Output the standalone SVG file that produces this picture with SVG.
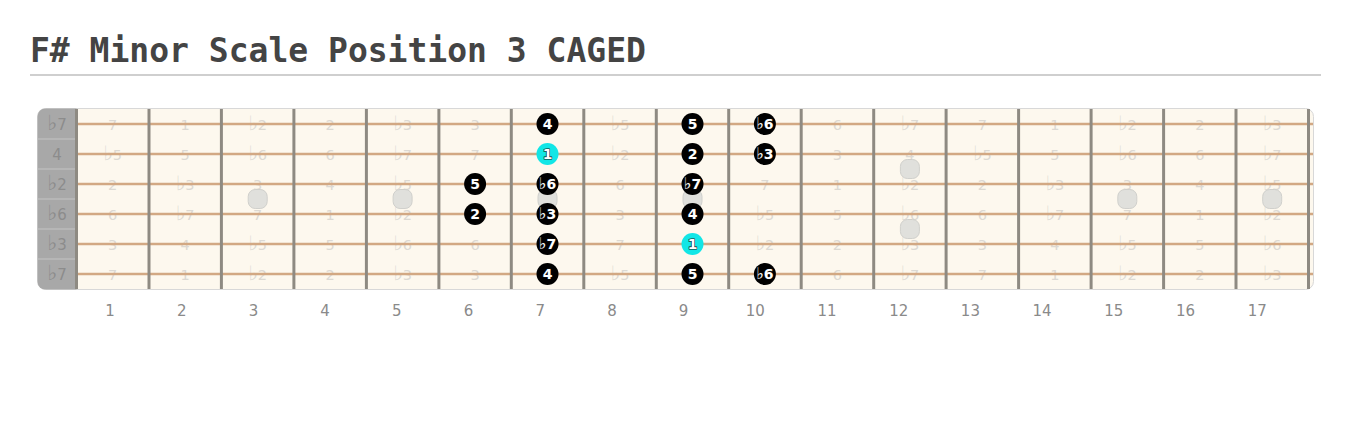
<svg xmlns="http://www.w3.org/2000/svg" width="1352" height="434" viewBox="0 0 1352 434">
<style>
.title{font-family:"DejaVu Sans Mono","Liberation Mono",monospace;font-weight:bold;font-size:33px;fill:#444}
.f{font-family:"DejaVu Sans",Verdana,sans-serif;font-size:14.5px;fill:#dcd9d3;text-anchor:middle}
.nl{font-family:"DejaVu Sans",Verdana,sans-serif;font-size:15px;fill:#8c8c8c;text-anchor:middle}
.fn{font-family:"DejaVu Sans",Verdana,sans-serif;font-size:15px;fill:#8a8a8a;text-anchor:middle}
.b{font-size:1.4em;font-weight:normal}
.str{stroke:#d2a883;stroke-width:2.5}
.fret{stroke:#8e8a82;stroke-width:3}
.sep{stroke:#c4c4c4;stroke-width:1}
.dot{fill:#e0e0dc;stroke:#d0d0cc;stroke-width:1}
.n circle{fill:#000}
.n.r circle{fill:#12e6e6}
.n text{font-family:"DejaVu Sans",Verdana,sans-serif;font-weight:bold;font-size:14px;fill:#fff;stroke:#111;stroke-width:1.1;paint-order:stroke;text-anchor:middle}
.n .b{font-size:1.15em;font-weight:bold}
</style>
<rect width="1352" height="434" fill="#fff"/>
<text class="title" x="30" y="62">F# Minor Scale Position 3 CAGED</text>
<line x1="30" y1="75" x2="1321" y2="75" stroke="#cfcfcf" stroke-width="2"/>
<g id="fretboard">
<rect x="37.5" y="108.5" width="1276" height="181" rx="8" fill="#fdf8ee" stroke="#d8d8d8" stroke-width="1"/>
<path d="M76.5 108.5 H45.5 A8 8 0 0 0 37.5 116.5 V281.5 A8 8 0 0 0 45.5 289.5 H76.5 Z" fill="#a8a8a8"/>
<g class="sep">
<line x1="38" y1="139" x2="76" y2="139"/><line x1="38" y1="169" x2="76" y2="169"/><line x1="38" y1="199" x2="76" y2="199"/><line x1="38" y1="229" x2="76" y2="229"/><line x1="38" y1="259" x2="76" y2="259"/>
</g>
<g class="nl">
<text x="57" y="129.5"><tspan class="b">♭</tspan>7</text><text x="57" y="159.5">4</text><text x="57" y="189.5"><tspan class="b">♭</tspan>2</text><text x="57" y="219.5"><tspan class="b">♭</tspan>6</text><text x="57" y="249.5"><tspan class="b">♭</tspan>3</text><text x="57" y="279.5"><tspan class="b">♭</tspan>7</text>
</g>
</g>
<g id="labels" class="f">
<text x="112.7" y="130">7</text><text x="185.2" y="130">1</text><text x="257.7" y="130"><tspan class="b">♭</tspan>2</text><text x="330.1" y="130">2</text><text x="402.6" y="130"><tspan class="b">♭</tspan>3</text><text x="475.1" y="130">3</text><text x="620" y="130"><tspan class="b">♭</tspan>5</text><text x="837.4" y="130">6</text><text x="909.9" y="130"><tspan class="b">♭</tspan>7</text><text x="982.3" y="130">7</text><text x="1054.8" y="130">1</text><text x="1127.3" y="130"><tspan class="b">♭</tspan>2</text><text x="1199.8" y="130">2</text><text x="1272.2" y="130"><tspan class="b">♭</tspan>3</text>
<text x="112.7" y="160"><tspan class="b">♭</tspan>5</text><text x="185.2" y="160">5</text><text x="257.7" y="160"><tspan class="b">♭</tspan>6</text><text x="330.1" y="160">6</text><text x="402.6" y="160"><tspan class="b">♭</tspan>7</text><text x="475.1" y="160">7</text><text x="620" y="160"><tspan class="b">♭</tspan>2</text><text x="837.4" y="160">3</text><text x="909.9" y="160">4</text><text x="982.3" y="160"><tspan class="b">♭</tspan>5</text><text x="1054.8" y="160">5</text><text x="1127.3" y="160"><tspan class="b">♭</tspan>6</text><text x="1199.8" y="160">6</text><text x="1272.2" y="160"><tspan class="b">♭</tspan>7</text>
<text x="112.7" y="190">2</text><text x="185.2" y="190"><tspan class="b">♭</tspan>3</text><text x="257.7" y="190">3</text><text x="330.1" y="190">4</text><text x="402.6" y="190"><tspan class="b">♭</tspan>5</text><text x="620" y="190">6</text><text x="764.9" y="190">7</text><text x="837.4" y="190">1</text><text x="909.9" y="190"><tspan class="b">♭</tspan>2</text><text x="982.3" y="190">2</text><text x="1054.8" y="190"><tspan class="b">♭</tspan>3</text><text x="1127.3" y="190">3</text><text x="1199.8" y="190">4</text><text x="1272.2" y="190"><tspan class="b">♭</tspan>5</text>
<text x="112.7" y="220">6</text><text x="185.2" y="220"><tspan class="b">♭</tspan>7</text><text x="257.7" y="220">7</text><text x="330.1" y="220">1</text><text x="402.6" y="220"><tspan class="b">♭</tspan>2</text><text x="620" y="220">3</text><text x="764.9" y="220"><tspan class="b">♭</tspan>5</text><text x="837.4" y="220">5</text><text x="909.9" y="220"><tspan class="b">♭</tspan>6</text><text x="982.3" y="220">6</text><text x="1054.8" y="220"><tspan class="b">♭</tspan>7</text><text x="1127.3" y="220">7</text><text x="1199.8" y="220">1</text><text x="1272.2" y="220"><tspan class="b">♭</tspan>2</text>
<text x="112.7" y="250">3</text><text x="185.2" y="250">4</text><text x="257.7" y="250"><tspan class="b">♭</tspan>5</text><text x="330.1" y="250">5</text><text x="402.6" y="250"><tspan class="b">♭</tspan>6</text><text x="475.1" y="250">6</text><text x="620" y="250">7</text><text x="764.9" y="250"><tspan class="b">♭</tspan>2</text><text x="837.4" y="250">2</text><text x="909.9" y="250"><tspan class="b">♭</tspan>3</text><text x="982.3" y="250">3</text><text x="1054.8" y="250">4</text><text x="1127.3" y="250"><tspan class="b">♭</tspan>5</text><text x="1199.8" y="250">5</text><text x="1272.2" y="250"><tspan class="b">♭</tspan>6</text>
<text x="112.7" y="280">7</text><text x="185.2" y="280">1</text><text x="257.7" y="280"><tspan class="b">♭</tspan>2</text><text x="330.1" y="280">2</text><text x="402.6" y="280"><tspan class="b">♭</tspan>3</text><text x="475.1" y="280">3</text><text x="620" y="280"><tspan class="b">♭</tspan>5</text><text x="837.4" y="280">6</text><text x="909.9" y="280"><tspan class="b">♭</tspan>7</text><text x="982.3" y="280">7</text><text x="1054.8" y="280">1</text><text x="1127.3" y="280"><tspan class="b">♭</tspan>2</text><text x="1199.8" y="280">2</text><text x="1272.2" y="280"><tspan class="b">♭</tspan>3</text>
</g>
<g id="strings" class="str">
<line x1="77" y1="124" x2="1313" y2="124"/><line x1="77" y1="154" x2="1313" y2="154"/><line x1="77" y1="184" x2="1313" y2="184"/><line x1="77" y1="214" x2="1313" y2="214"/><line x1="77" y1="244" x2="1313" y2="244"/><line x1="77" y1="274" x2="1313" y2="274"/>
</g>
<g id="frets" class="fret">
<line x1="76.5" y1="109" x2="76.5" y2="289"/><line x1="149" y1="109" x2="149" y2="289"/><line x1="221.4" y1="109" x2="221.4" y2="289"/><line x1="293.9" y1="109" x2="293.9" y2="289"/><line x1="366.4" y1="109" x2="366.4" y2="289"/><line x1="438.9" y1="109" x2="438.9" y2="289"/><line x1="511.3" y1="109" x2="511.3" y2="289"/><line x1="583.8" y1="109" x2="583.8" y2="289"/><line x1="656.3" y1="109" x2="656.3" y2="289"/><line x1="728.7" y1="109" x2="728.7" y2="289"/><line x1="801.2" y1="109" x2="801.2" y2="289"/><line x1="873.7" y1="109" x2="873.7" y2="289"/><line x1="946.1" y1="109" x2="946.1" y2="289"/><line x1="1018.6" y1="109" x2="1018.6" y2="289"/><line x1="1091.1" y1="109" x2="1091.1" y2="289"/><line x1="1163.6" y1="109" x2="1163.6" y2="289"/><line x1="1236" y1="109" x2="1236" y2="289"/><line x1="1308.5" y1="109" x2="1308.5" y2="289"/>
</g>
<g id="inlays" class="dot">
<rect x="248.2" y="189.5" width="19" height="19" rx="7"/><rect x="393.1" y="189.5" width="19" height="19" rx="7"/><rect x="538" y="189.5" width="19" height="19" rx="7"/><rect x="683" y="189.5" width="19" height="19" rx="7"/><rect x="900.4" y="159.5" width="19" height="19" rx="7"/><rect x="900.4" y="219.5" width="19" height="19" rx="7"/><rect x="1117.8" y="189.5" width="19" height="19" rx="7"/><rect x="1262.7" y="189.5" width="19" height="19" rx="7"/>
</g>
<g id="notes">
<g id="n-s1-f7" class="n"><circle cx="547.5" cy="124" r="11"/><text x="547.5" y="129">4</text></g>
<g id="n-s1-f9" class="n"><circle cx="692.5" cy="124" r="11"/><text x="692.5" y="129">5</text></g>
<g id="n-s1-f10" class="n"><circle cx="764.9" cy="124" r="11"/><text x="764.9" y="129"><tspan class="b">♭</tspan>6</text></g>
<g id="n-s2-f7" class="n r"><circle cx="547.5" cy="154" r="11"/><text x="547.5" y="159">1</text></g>
<g id="n-s2-f9" class="n"><circle cx="692.5" cy="154" r="11"/><text x="692.5" y="159">2</text></g>
<g id="n-s2-f10" class="n"><circle cx="764.9" cy="154" r="11"/><text x="764.9" y="159"><tspan class="b">♭</tspan>3</text></g>
<g id="n-s3-f6" class="n"><circle cx="475.1" cy="184" r="11"/><text x="475.1" y="189">5</text></g>
<g id="n-s3-f7" class="n"><circle cx="547.5" cy="184" r="11"/><text x="547.5" y="189"><tspan class="b">♭</tspan>6</text></g>
<g id="n-s3-f9" class="n"><circle cx="692.5" cy="184" r="11"/><text x="692.5" y="189"><tspan class="b">♭</tspan>7</text></g>
<g id="n-s4-f6" class="n"><circle cx="475.1" cy="214" r="11"/><text x="475.1" y="219">2</text></g>
<g id="n-s4-f7" class="n"><circle cx="547.5" cy="214" r="11"/><text x="547.5" y="219"><tspan class="b">♭</tspan>3</text></g>
<g id="n-s4-f9" class="n"><circle cx="692.5" cy="214" r="11"/><text x="692.5" y="219">4</text></g>
<g id="n-s5-f7" class="n"><circle cx="547.5" cy="244" r="11"/><text x="547.5" y="249"><tspan class="b">♭</tspan>7</text></g>
<g id="n-s5-f9" class="n r"><circle cx="692.5" cy="244" r="11"/><text x="692.5" y="249">1</text></g>
<g id="n-s6-f7" class="n"><circle cx="547.5" cy="274" r="11"/><text x="547.5" y="279">4</text></g>
<g id="n-s6-f9" class="n"><circle cx="692.5" cy="274" r="11"/><text x="692.5" y="279">5</text></g>
<g id="n-s6-f10" class="n"><circle cx="764.9" cy="274" r="11"/><text x="764.9" y="279"><tspan class="b">♭</tspan>6</text></g>
</g>
<g id="fret-numbers" class="fn">
<text x="110" y="316">1</text><text x="181.7" y="316">2</text><text x="253.4" y="316">3</text><text x="325.1" y="316">4</text><text x="396.8" y="316">5</text><text x="468.5" y="316">6</text><text x="540.2" y="316">7</text><text x="611.9" y="316">8</text><text x="683.6" y="316">9</text><text x="755.3" y="316">10</text><text x="827" y="316">11</text><text x="898.7" y="316">12</text><text x="970.4" y="316">13</text><text x="1042.1" y="316">14</text><text x="1113.8" y="316">15</text><text x="1185.5" y="316">16</text><text x="1257.2" y="316">17</text>
</g>
</svg>
